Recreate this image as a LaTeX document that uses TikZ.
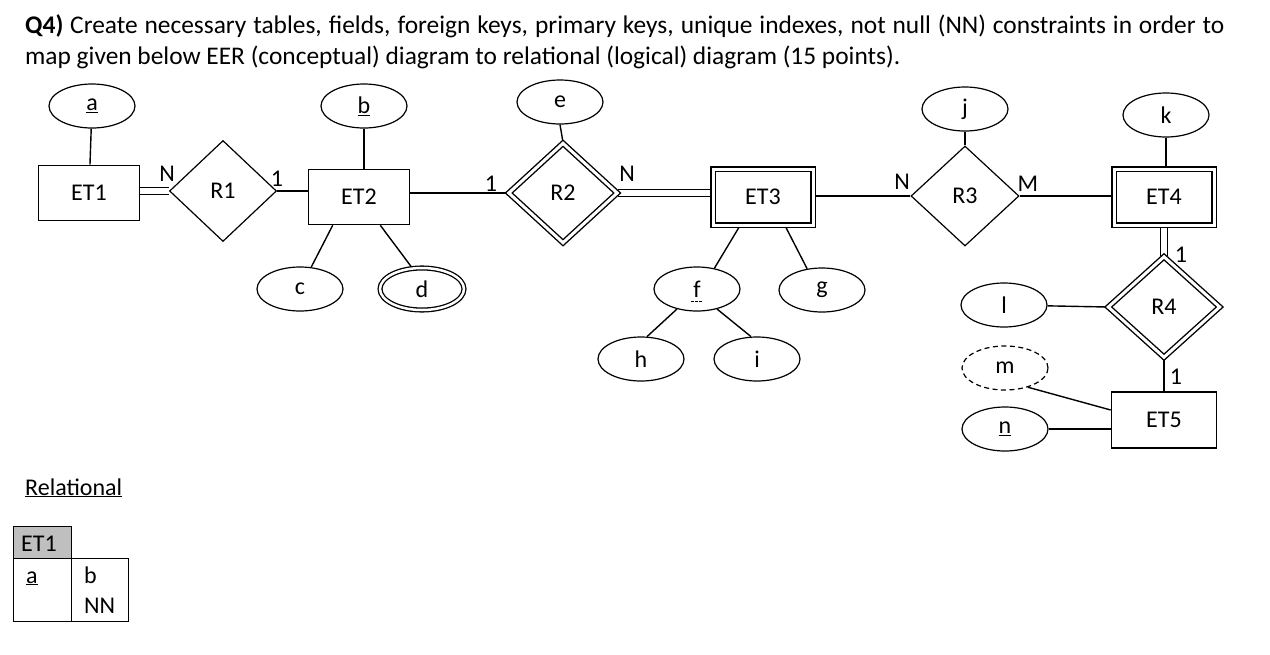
\documentclass[tikz,border=0pt]{standalone}
\usepackage{fontspec}
\setmainfont{Carlito}
\usetikzlibrary{shapes.geometric,positioning,backgrounds}

\tikzset{
  ent/.style={draw,line width=1.6pt,minimum width=101pt,minimum height=55pt,inner sep=0pt},
  went/.style={draw,double,double distance=3pt,line width=1.2pt,minimum width=100pt,minimum height=56pt,inner sep=0pt},
  rel/.style={draw,diamond,line width=1.2pt,minimum width=107pt,minimum height=101pt,inner sep=0pt},
  wrel/.style={draw,diamond,double,double distance=3pt,line width=1.4pt,minimum width=109pt,minimum height=100pt,inner sep=0pt},
  att/.style={draw,ellipse,line width=1.2pt,minimum width=86pt,minimum height=44pt,inner sep=0pt},
  multatt/.style={att,double,double distance=2.5pt,line width=1.3pt,minimum width=84pt,minimum height=42pt},
  derivatt/.style={att,dashed,dash pattern=on 5pt off 3.5pt},
  card/.style={inner sep=0pt,anchor=base},
  link/.style={line width=1.4pt},
  dlink/.style={double,double distance=5.5pt,line width=1.3pt}
}

\begin{document}
\begin{tikzpicture}[x=1pt,y=-1pt,font=\fontsize{24}{29}\selectfont]
  \useasboundingbox (0,0) rectangle (1270,654);

  % question
  \node[anchor=base west,inner sep=0pt,font=\fontsize{25.4}{30}\selectfont] (q1) at (25,33)
    {\hbox to 1199pt{\textbf{Q4)} Create necessary tables, fields, foreign keys, primary keys, unique indexes, not null (NN) constraints in order to}};
  \node[anchor=base west,inner sep=0pt,font=\fontsize{25.4}{30}\selectfont] (q2) at (25,64)
    {map given below EER (conceptual) diagram to relational (logical) diagram (15 points).};

  % entities
  \node[ent] (ET1) at (89,193) {ET1};
  \node[ent] (ET2) at (359,197) {ET2};
  \node[went] (ET3) at (763,197) {ET3};
  \node[went] (ET4) at (1164,197) {ET4};
  \node[ent,minimum width=105pt,minimum height=56pt] (ET5) at (1164,420) {ET5};

  % relationships
  \node[rel] (R1) at (223,191) {R1};
  \node[wrel] (R2) at (563,193) {R2};
  \node[rel,minimum width=108pt,minimum height=100pt] (R3) at (965,196) {R3};
  \node[wrel,minimum width=112pt,minimum height=101pt] (R4) at (1164,307) {R4};

  % attributes
  \node[att] (a) at (92,106) {\underline{a}};
  \node[att] (b) at (364,106) {\underline{b}};
  \node[att] (c) at (300,289) {c};
  \node[multatt] (d) at (422,289) {d};
  \node[att] (e) at (560,102) {e};
  \node[att] (f) at (697,289) {f};
  \node[att] (g) at (822,290) {g};
  \node[att] (h) at (641,359) {h};
  \node[att] (i) at (757,359) {i};
  \node[att] (j) at (965,109) {j};
  \node[att] (k) at (1166,115) {k};
  \node[att] (l) at (1004,305) {l};
  \node[derivatt] (m) at (1005,368) {m};
  \node[att] (n) at (1005,429) {\underline{n}};
  \draw[line width=0.9pt,dash pattern=on 2.5pt off 1.5pt] ([xshift=-6pt,yshift=-12pt]f.center) -- ++(12pt,0);

  % cardinalities
  \node[card] (cN1) at (167,181) {N};
  \node[card] (c11) at (277,186) {1};
  \node[card] (c12) at (491,191) {1};
  \node[card] (cN2) at (627,181) {N};
  \node[card] (cN3) at (902,189) {N};
  \node[card] (cM) at (1028,191) {M};
  \node[card] (c13) at (1181,262) {1};
  \node[card] (c14) at (1176,384) {1};

  \begin{pgfonlayer}{background}
    \draw[link] (a) -- (ET1);
    \draw[link] (b.south) -- (b.south |- ET2.north);
    \draw[link] ([xshift=25pt]ET2.south west) -- (c);
    \draw[link] ([xshift=-30pt]ET2.south east) -- (d.115);
    \draw[link] (e.south) -- (R2.north);
    \draw[link] ([xshift=-23pt]ET3.south) -- (f.50);
    \draw[link] ([xshift=22pt]ET3.south) -- (g.125);
    \draw[link] (f.-135) -- (h.75);
    \draw[link] (f.-45) -- (i.105);
    \draw[link] (j.south) -- (R3.north);
    \draw[link] (k.south) -- (k.south |- ET4.north);
    \draw[link] (l) -- (R4.west);
    \draw[link] (m.-40) -- ([yshift=10pt]ET5.west);
    \draw[link] (n) -- (n -| ET5.west);

    \draw[dlink] (R1.west -| ET1.east) -- (R1.west);
    \draw[link] (R1.east) -- (R1.east -| ET2.west);
    \draw[link] (R2.west -| ET2.east) -- (R2.west);
    \draw[dlink] (R2.east) -- (R2.east -| ET3.west);
    \draw[link] (R3.west -| ET3.east) -- (R3.west);
    \draw[link] (R3.east) -- (R3.east -| ET4.west);
    \draw[dlink] (ET4.south) -- (R4.north);
    \draw[link] (R4.south) -- (ET5.north);
  \end{pgfonlayer}

  % relational
  \node[anchor=base west,inner sep=0pt] (relt) at (25,495) {\underline{Relational}};
  \fill[black!25] (13,526) rectangle (71,558);
  \draw[line width=0.9pt] (13,526) rectangle (71,558);
  \draw[line width=0.9pt] (13,558) -- (13,621) -- (128,621) -- (128,558) -- (71,558) -- (71,621);
  \node[anchor=base west,inner sep=0pt] (tET1) at (21,551) {ET1};
  \node[anchor=base west,inner sep=0pt] (ta) at (26,583) {\underline{a}};
  \node[anchor=base west,inner sep=0pt] (tb) at (84,583) {b};
  \node[anchor=base west,inner sep=0pt] (tNN) at (84,613) {NN};
\end{tikzpicture}
\end{document}
